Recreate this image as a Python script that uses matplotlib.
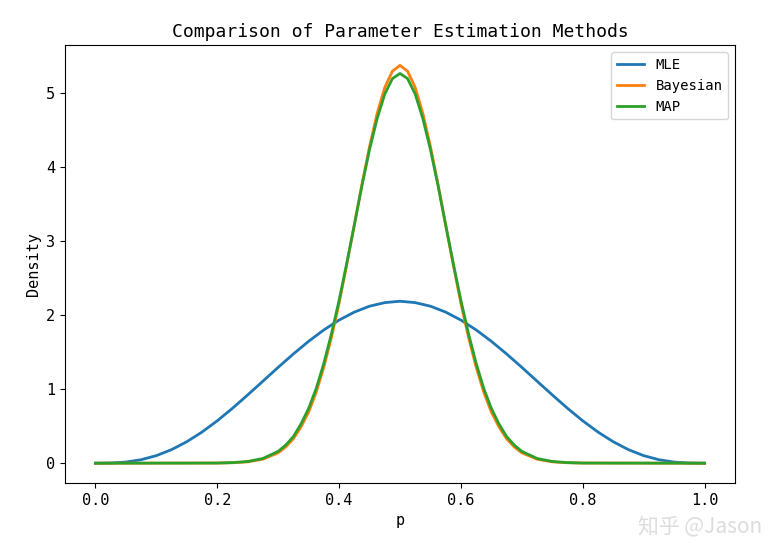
import matplotlib
matplotlib.use("Agg")
import matplotlib.pyplot as plt

p = [i * 0.025 for i in range(41)]
mle_half = [0, 0.002, 0.015, 0.047, 0.102, 0.183, 0.290, 0.421, 0.573, 0.742, 0.923,
            1.109, 1.296, 1.477, 1.648, 1.802, 1.935, 2.043, 2.123, 2.171, 2.19]
mle = mle_half + mle_half[-2::-1]

# narrow curves: offsets from 0.5
off_half = [0.5, 0.3, 0.275, 0.25, 0.225, 0.2, 0.1875, 0.175, 0.1625, 0.15, 0.1375,
            0.125, 0.1125, 0.1, 0.0875, 0.075, 0.0625, 0.05, 0.0375, 0.025, 0.0125, 0.0]
bay_half = [0, 0.002, 0.006, 0.018, 0.054, 0.14, 0.22, 0.33, 0.49, 0.69, 0.96,
            1.30, 1.70, 2.16, 2.68, 3.22, 3.77, 4.28, 4.73, 5.08, 5.30, 5.38]
map_half = [0, 0.002, 0.008, 0.023, 0.064, 0.16, 0.245, 0.36, 0.53, 0.74, 1.01,
            1.35, 1.75, 2.20, 2.70, 3.22, 3.75, 4.24, 4.66, 4.99, 5.20, 5.27]
p2 = [0.5 - d for d in off_half] + [0.5 + d for d in off_half[-2::-1]]
bayesian = bay_half + bay_half[-2::-1]
map_vals = map_half + map_half[-2::-1]

plt.rcParams['font.family'] = ['DejaVu Sans Mono', 'Noto Sans CJK SC']
fig = plt.figure(figsize=(7.82, 5.54), dpi=100)
ax = fig.add_axes([0.083, 0.128, 0.857, 0.79])
ax.plot(p, mle, color='#1f77b4', lw=2, label='MLE')
ax.plot(p2, bayesian, color='#ff7f0e', lw=2, label='Bayesian')
ax.plot(p2, map_vals, color='#2ca02c', lw=2, label='MAP')
ax.set_title('Comparison of Parameter Estimation Methods', fontsize=13)
ax.set_xlabel('p', fontsize=11)
ax.set_ylabel('Density', fontsize=11)
ax.tick_params(labelsize=11)
ax.legend(loc='upper right', fontsize=10)
fig.text(0.975, 0.03, '知乎 @Jason', ha='right', va='bottom', fontsize=15,
         color='#dddddd', family=['Noto Sans CJK SC'])
fig.savefig('out.png')
